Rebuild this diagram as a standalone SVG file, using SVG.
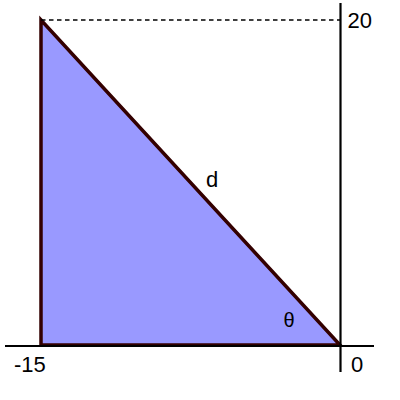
<svg xmlns="http://www.w3.org/2000/svg" width="400" height="400" viewBox="0 0 400 400">
<style>
text{font-family:"Liberation Sans",Arial,sans-serif;font-size:22px;fill:#000}
.axis{stroke:#000;stroke-width:2.2;fill:none}
</style>
<rect width="400" height="400" fill="#fff"/>
<g id="triangle">
<polygon points="41,20 41,345 340,345" fill="#9999ff" stroke="#330000" stroke-width="3.5" stroke-linejoin="miter"/>
</g>
<g id="connectors">
<line x1="41" y1="20" x2="340" y2="20" stroke="#000" stroke-width="1.5" stroke-dasharray="4.5,3.5"/>
<line class="axis" x1="5" y1="346" x2="374" y2="346"/>
<line class="axis" x1="340.5" y1="3" x2="340.5" y2="372"/>
</g>
<g id="labels">
<text x="347.5" y="28">20</text>
<text x="14" y="372">-15</text>
<text x="351" y="372">0</text>
<text x="206" y="187">d</text>
<text x="283.5" y="327" style="font-size:20px">θ</text>
</g>
</svg>
